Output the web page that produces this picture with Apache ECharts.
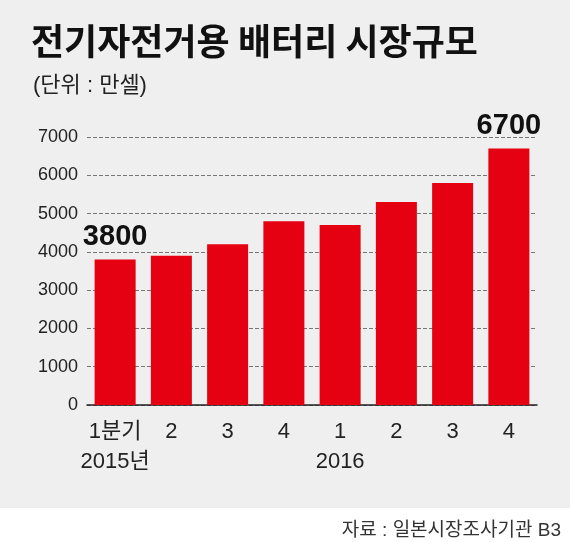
<!DOCTYPE html><html><head><meta charset="utf-8"><script src="https://cdn.jsdelivr.net/npm/echarts@6/dist/echarts.min.js"></script>
<style>body{margin:0;background:#fff}#c{width:570px;height:542px}</style></head><body><div id="c"></div><script>
const categories=['1분기\n2015년','2','3','4','1\n2016','2','3','4'];
const values=[3800,3900,4200,4800,4700,5300,5800,6700];
const labeled=[0,7];
const ch=echarts.init(document.getElementById('c'));
const F='"Liberation Sans","Noto Sans CJK KR",sans-serif';
ch.setOption({
 animation:false,
 graphic:[{type:'rect',z:-10,silent:true,shape:{x:0,y:0,width:570,height:508},style:{fill:'#efefef'}}],
 title:[{text:'전기자전거용 배터리 시장규모',left:26,top:18,textStyle:{fontFamily:'"Noto Sans CJK KR"',fontSize:36,fontWeight:'bold',color:'#111'}},
  {text:'(단위 : 만셀)',left:28,top:70,textStyle:{fontFamily:F,fontSize:22,fontWeight:'normal',color:'#222'}},
  {text:'자료 : 일본시장조사기관 B3',right:4,top:516,textStyle:{fontFamily:F,fontSize:19,fontWeight:'normal',color:'#333'}}],
 grid:{left:87,right:33,top:137,height:268},
 xAxis:{type:'category',data:categories,axisTick:{show:false},axisLine:{lineStyle:{color:'#222',width:1.5}},
  axisLabel:{interval:0,fontFamily:F,fontSize:22,color:'#222',margin:12,lineHeight:30,verticalAlign:'top'}},
 yAxis:{type:'value',min:0,max:7000,interval:1000,axisLine:{show:false},
  axisLabel:{fontFamily:F,fontSize:18,color:'#222',margin:9,formatter:v=>String(v)},
  splitLine:{lineStyle:{type:'dashed',color:'#777'}}},
 series:[{type:'bar',data:values,barWidth:41,itemStyle:{color:'#e50012'},
  label:{show:true,position:'top',distance:8,fontFamily:F,fontSize:29,fontWeight:'bold',color:'#111',
   formatter:p=>labeled.includes(p.dataIndex)?String(p.value):''}}]
});
</script></body></html>
